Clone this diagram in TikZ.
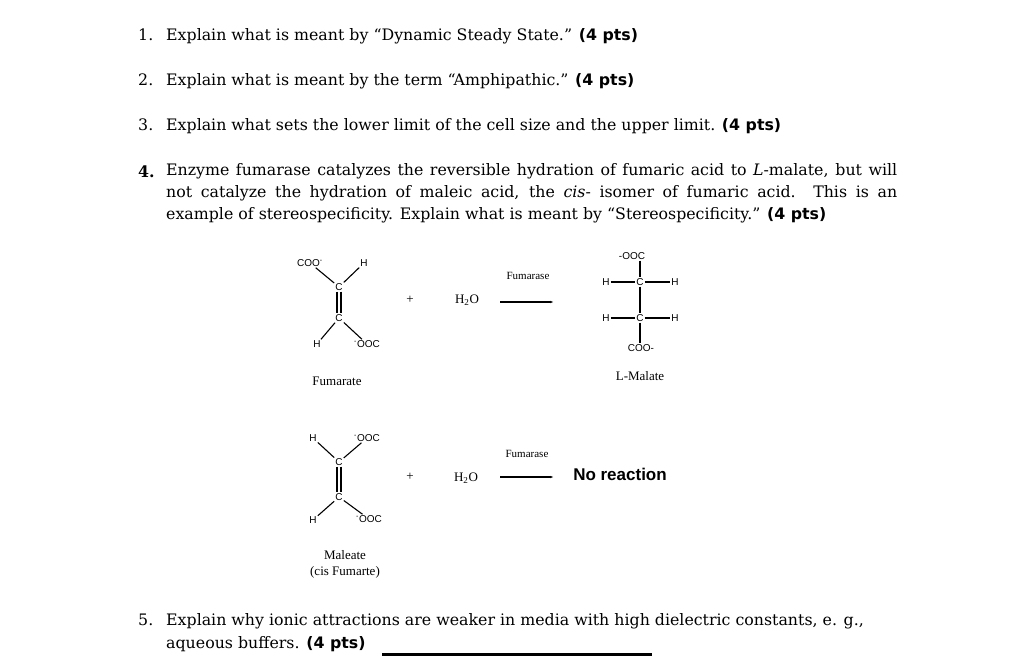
\documentclass[tikz,border=0pt]{standalone}
\usepackage{fontspec}
\usetikzlibrary{arrows.meta}
\setmainfont{DejaVu Serif}
\setsansfont{DejaVu Sans}
\newfontfamily\chemsf{Liberation Sans}
\newfontfamily\chemrm{Liberation Serif}
\newcommand{\pts}{{\sffamily\bfseries (4 pts)}}
\begin{document}
\begin{tikzpicture}[x=1pt,y=-1pt,
  q/.style={anchor=base west,inner sep=0pt,font=\fontsize{15.8}{22}\selectfont},
  at9/.style={inner sep=1pt,font=\chemsf\fontsize{10}{11}\selectfont},
  rm/.style={inner sep=0pt,font=\chemrm\fontsize{13}{16}\selectfont},
  bd/.style={line width=1.1pt},
  rx/.style={line width=1.1pt,-{Latex[length=4pt,width=2.5pt]}}]
\fill[white] (0,0) rectangle (1024,663);
\useasboundingbox (0,0) rectangle (1024,663);
\node[q] (n1) at (138,41) {1.}; \node[q] (t1) at (166,41) {Explain what is meant by “Dynamic Steady State.” \pts};
\node[q] (n2) at (138,86) {2.}; \node[q] (t2) at (166,86) {Explain what is meant by the term “Amphipathic.” \pts};
\node[q] (n3) at (138,131) {3.}; \node[q] (t3) at (166,131) {Explain what sets the lower limit of the cell size and the upper limit. \pts};
\node[q] (n4) at (138,177) {\textbf{4.}};
\node[q,anchor=north west,text width=731pt,align=justify] (t4) at (166,163) {Enzyme fumarase catalyzes the reversible hydration of fumaric acid to \emph{L}-malate, but will\linebreak not catalyze the hydration of maleic acid, the \emph{cis}- isomer of fumaric acid. This is an\linebreak example of stereospecificity. Explain what is meant by “Stereospecificity.” \pts};
% Fumarate
\node[at9] (f1) at (310,263) {COO\textsuperscript{-}};
\node[at9] (f2) at (364,263) {H};
\node[at9] (fc1) at (339,287) {C};
\node[at9] (fc2) at (339,318) {C};
\node[at9] (f3) at (317,344) {H};
\node[at9] (f4) at (367,344) {\textsuperscript{-}OOC};
\draw[bd] (fc1) -- (f1); \draw[bd] (fc1) -- (f2);
\draw[bd] (fc2) -- (f3); \draw[bd] (fc2) -- (f4);
\draw[bd] ([xshift=-2pt]fc1.south) -- ([xshift=-2pt]fc2.north);
\draw[bd] ([xshift=2pt]fc1.south) -- ([xshift=2pt]fc2.north);
\node[rm] (fl) at (337,381) {Fumarate};
\node[rm] (p1) at (410,300) {+};
\node[rm] (w1) at (467,300) {H\textsubscript{2}O};
\coordinate (a1s) at (500,302); \coordinate (a1e) at (554,302);
\draw[rx] (a1s) -- (a1e);
\node[rm,font=\chemrm\fontsize{11}{12}\selectfont] (e1) at (528,276) {Fumarase};
% Malate
\node[at9] (m1) at (632,256) {-OOC};
\node[at9] (mc1) at (640,282) {C};
\node[at9] (mc2) at (640,318) {C};
\node[at9] (mh1) at (606,282) {H};
\node[at9] (mh2) at (675,282) {H};
\node[at9] (mh3) at (606,318) {H};
\node[at9] (mh4) at (675,318) {H};
\node[at9] (m2) at (641,348) {COO-};
\draw[bd] (m1.south -| mc1) -- (mc1); \draw[bd] (mc1) -- (mc2); \draw[bd] (mc2) -- (m2.north -| mc2);
\draw[bd] (mh1) -- (mc1); \draw[bd] (mc1) -- (mh2); \draw[bd] (mh3) -- (mc2); \draw[bd] (mc2) -- (mh4);
\node[rm] (ml) at (640,376) {L-Malate};
% Maleate
\node[at9] (g1) at (313,438) {H};
\node[at9] (g2) at (367,438) {\textsuperscript{-}OOC};
\node[at9] (gc1) at (339,462) {C};
\node[at9] (gc2) at (339,497) {C};
\node[at9] (g3) at (313,520) {H};
\node[at9] (g4) at (369,519) {\textsuperscript{-}OOC};
\draw[bd] (gc1) -- (g1); \draw[bd] (gc1) -- (g2);
\draw[bd] (gc2) -- (g3); \draw[bd] (gc2) -- (g4);
\draw[bd] ([xshift=-2pt]gc1.south) -- ([xshift=-2pt]gc2.north);
\draw[bd] ([xshift=2pt]gc1.south) -- ([xshift=2pt]gc2.north);
\node[rm,align=center] (gl) at (345,564) {Maleate\\(cis Fumarte)};
\node[rm] (p2) at (410,477) {+};
\node[rm] (w2) at (466,478) {H\textsubscript{2}O};
\coordinate (a2s) at (500,477); \coordinate (a2e) at (554,477);
\draw[rx] (a2s) -- (a2e);
\node[rm,font=\chemrm\fontsize{11}{12}\selectfont] (e2) at (527,454) {Fumarase};
\node[inner sep=0pt,font=\chemsf\bfseries\fontsize{17}{18}\selectfont] (nr) at (620,474) {No reaction};
% Q5
\node[q] (n5) at (138,625) {5.};
\node[q] (t5) at (166,625) {Explain why ionic attractions are weaker in media with high dielectric constants, e. g.,};
\node[q] (t5b) at (166,648) {aqueous buffers. \pts};
\coordinate (u1) at (382,654); \coordinate (u2) at (652,654);
\draw[line width=3pt] (u1) -- (u2);
\end{tikzpicture}
\end{document}
